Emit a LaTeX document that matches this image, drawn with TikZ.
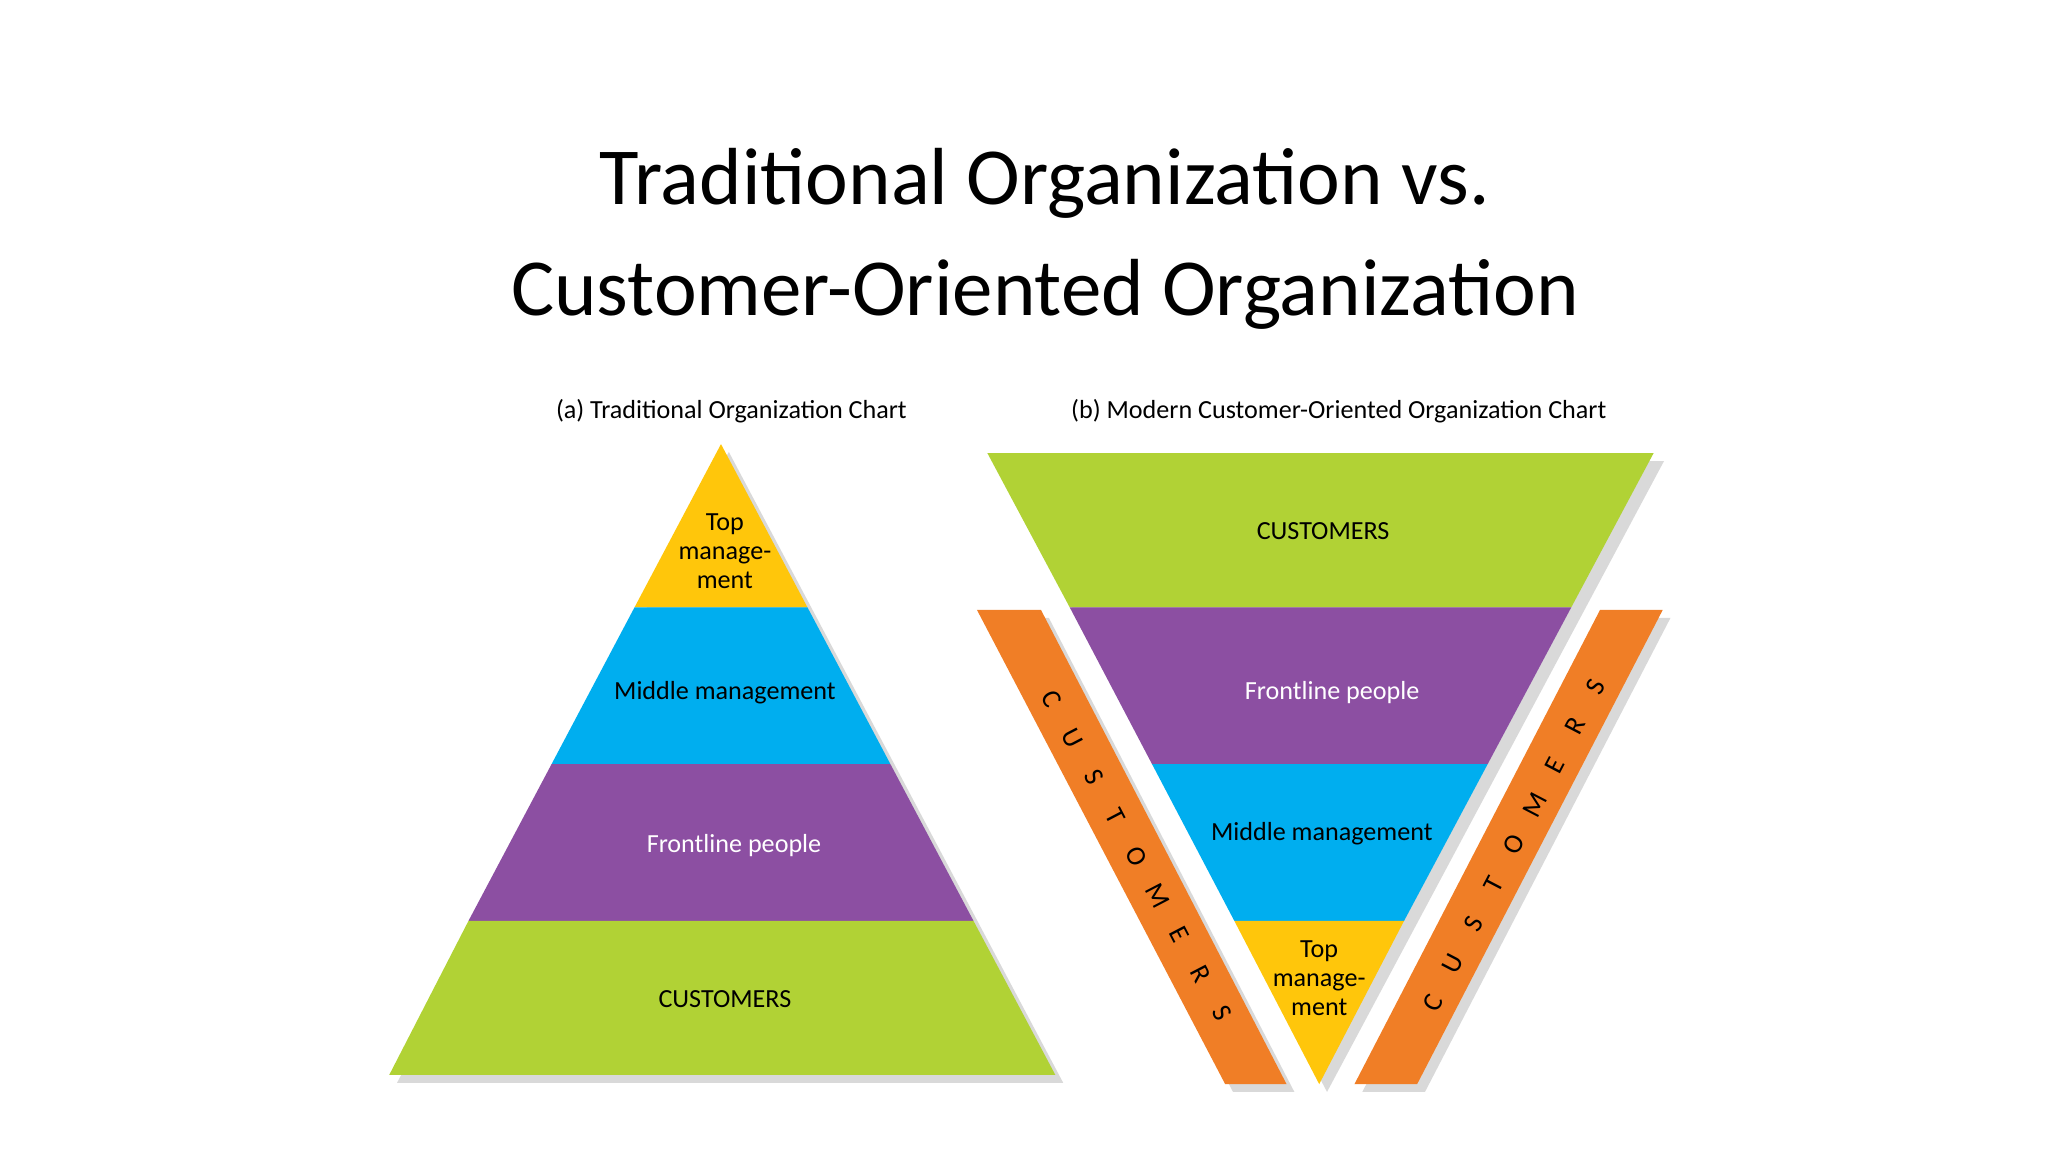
\documentclass[tikz,border=0pt]{standalone}
\usepackage{fontspec}
\setmainfont{Carlito}
\definecolor{cy}{HTML}{FFC60B}
\definecolor{cb}{HTML}{00AEEF}
\definecolor{cp}{HTML}{8C4FA2}
\definecolor{cg}{HTML}{B1D235}
\definecolor{co}{HTML}{F07E26}
\definecolor{sh}{HTML}{D9D9D9}
\tikzset{lbl/.style={font=\fontsize{10}{11}\selectfont,align=center,inner sep=0pt},
 shad/.style={fill=sh},
 band/.style={draw=black!30,line width=0.2pt},
 ltr/.style={font=\fontsize{10.5}{11}\selectfont,inner sep=0pt}}
\begin{document}
\begin{tikzpicture}[x=0.5pt,y=-0.5pt]
\useasboundingbox (0,0) rectangle (1568,882);
% titles
\node (t1) at (800,140) {\fontsize{31}{36}\selectfont Traditional Organization vs.};
\node (t2) at (800,225) {\fontsize{31}{36}\selectfont Customer-Oriented Organization};
\node[lbl] (sa) at (560,315) {(a) Traditional Organization Chart};
\node[lbl] (sb) at (1025,315) {(b) Modern Customer-Oriented Organization Chart};
% left pyramid shadow
\fill[shad] (558,346) -- (814,829) -- (304,829) -- cycle;
\fill[cy] (552,340) -- (618.2,465) -- (485.8,465) -- cycle;
\fill[cb] (485.8,465) -- (618.2,465) -- (681.7,585) -- (422.3,585) -- cycle;
\fill[cp] (422.3,585) -- (681.7,585) -- (745.3,705) -- (358.7,705) -- cycle;
\fill[cg] (358.7,705) -- (745.3,705) -- (808,823) -- (298,823) -- cycle;
\node[lbl] (a1) at (555,422) {Top\\manage-\\ment};
\node[lbl] (a2) at (555,530) {Middle management};
\node[lbl,text=white] (a3) at (562,647) {Frontline people};
\node[lbl] (a4) at (555,765) {CUSTOMERS};
% right inverted shadow
\fill[shad] (762,353) -- (1274,353) -- (1016,836) -- cycle;
\fill[cg] (756,347) -- (1266,347) -- (1203,465) -- (819,465) -- cycle;
\fill[cp] (819,465) -- (1203,465) -- (1139,585) -- (882,585) -- cycle;
\fill[cb] (882,585) -- (1139,585) -- (1075,705) -- (945,705) -- cycle;
\fill[cy] (945,705) -- (1075,705) -- (1010,830) -- cycle;
\node[lbl] (b1) at (1013,407) {CUSTOMERS};
\node[lbl,text=white] (b2) at (1020,530) {Frontline people};
\node[lbl] (b3) at (1012,638) {Middle management};
\node[lbl] (b4) at (1010,749) {Top\\manage-\\ment};
% strips
\fill[shad] (754,473) -- (803,473) -- (991,836) -- (944,836) -- cycle;
\fill[co] (748,467) -- (797,467) -- (985,830) -- (938,830) -- cycle;
\fill[shad] (1231,473) -- (1279,473) -- (1091,836) -- (1043,836) -- cycle;
\fill[co] (1225,467) -- (1273,467) -- (1085,830) -- (1037,830) -- cycle;
\foreach \l [count=\i] in {C,U,S,T,O,M,E,R,S}{
  \node[ltr,rotate=-62.5] (lc\i) at ({805+(\i-1)*16.3},{535+(\i-1)*30.1}) {\l};
  \node[ltr,rotate=62.5] (rc\i) at ({1097+(\i-1)*15.6},{768-(\i-1)*30.3}) {\l};
}
\end{tikzpicture}
\end{document}
